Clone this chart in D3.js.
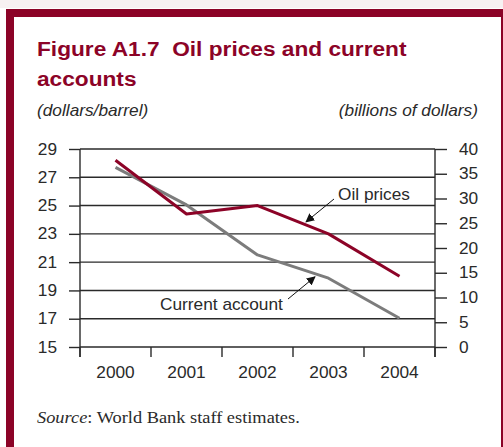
<!DOCTYPE html>
<html>
<head>
<meta charset="utf-8">
<script src="https://cdn.jsdelivr.net/npm/d3@7"></script>
<style>
  html, body { margin: 0; padding: 0; background: #ffffff; }
  svg { display: block; }
</style>
</head>
<body>
<script>
// Years along the horizontal axis
const years = ["2000", "2001", "2002", "2003", "2004"];
// Oil prices, dollars per barrel (left axis)
const oilPrices = [28.2, 24.4, 25.0, 23.0, 20.0];
// Current account, billions of dollars (right axis)
const currentAccount = [36.3, 28.7, 18.6, 13.9, 5.8];
// Tick labels
const leftTicks = [15, 17, 19, 21, 23, 25, 27, 29];
const rightTicks = [0, 5, 10, 15, 20, 25, 30, 35, 40];

const W = 503, H = 447;
const maroon = "#8c0327";
const ink = "#2a2a2a";
const SX = 1.08;          // horizontal widening applied to all lettering
const sans = "'Liberation Sans', Arial, Helvetica, sans-serif";
const serif = "'Liberation Serif', 'Times New Roman', serif";

const svg = d3.select("body").append("svg")
  .attr("width", W).attr("height", H);

// Place a text element at (x, y), widened horizontally by SX
function addText(x, y, str, opts = {}) {
  const t = svg.append("text")
    .attr("transform", `translate(${x},${y}) scale(${SX},1)`)
    .attr("text-anchor", opts.anchor || "start")
    .attr("fill", opts.fill || ink)
    .style("font-family", opts.family || sans)
    .style("font-size", (opts.size || 16) + "px");
  if (opts.weight) t.style("font-weight", opts.weight);
  if (opts.italic) t.style("font-style", "italic");
  if (str != null) t.text(str);
  return t;
}
// Widen axis tick labels the same way
function widenTicks(g, size) {
  g.selectAll(".tick text").each(function () {
    const t = d3.select(this);
    const x0 = +t.attr("x") || 0;
    t.attr("x", x0 / SX).attr("transform", `scale(${SX},1)`)
      .attr("fill", ink)
      .style("font-family", sans)
      .style("font-size", size + "px");
  });
}

// Page background and frame
svg.append("rect").attr("x", 0).attr("y", 0).attr("width", W).attr("height", H).attr("fill", "#ffffff");
svg.append("rect").attr("x", 0).attr("y", 0).attr("width", W).attr("height", 8).attr("fill", "#f7f1f2");
svg.append("rect").attr("x", 6).attr("y", 9).attr("width", W - 6).attr("height", 8).attr("fill", maroon);
svg.append("rect").attr("x", 6).attr("y", 9).attr("width", 8).attr("height", H - 9).attr("fill", maroon);
svg.append("rect").attr("x", 501).attr("y", 9).attr("width", 2).attr("height", H - 9).attr("fill", maroon);

// Title
addText(37, 56, "Figure A1.7\u00a0\u00a0Oil prices and current", { size: 21, weight: "bold", fill: maroon });
addText(37, 86, "accounts", { size: 21, weight: "bold", fill: maroon });

// Unit labels
addText(37, 116, "(dollars/barrel)", { size: 16, italic: true });
addText(478, 116, "(billions of dollars)", { size: 16, italic: true, anchor: "end" });

// Scales
const x = d3.scaleBand().domain(years).range([80, 435]);
const yL = d3.scaleLinear().domain([15, 29]).range([347, 149]);
const yR = d3.scaleLinear().domain([0, 40]).range([347, 149]);

// Horizontal grid lines at each left-axis tick
svg.append("g").selectAll("line").data(leftTicks).join("line")
  .attr("x1", x.range()[0]).attr("x2", x.range()[1])
  .attr("y1", d => yL(d)).attr("y2", d => yL(d))
  .attr("stroke", ink).attr("stroke-width", 1.4);

// Left axis
const leftAxis = svg.append("g")
  .attr("transform", `translate(${x.range()[0]},0)`)
  .call(d3.axisLeft(yL).tickValues(leftTicks).tickSize(11).tickSizeOuter(0).tickPadding(12));
leftAxis.select(".domain").remove();
leftAxis.selectAll(".tick line").attr("stroke", ink).attr("stroke-width", 1.4);
widenTicks(leftAxis, 16);

// Right axis
const rightAxis = svg.append("g")
  .attr("transform", `translate(${x.range()[1]},0)`)
  .call(d3.axisRight(yR).tickValues(rightTicks).tickSize(12).tickSizeOuter(0).tickPadding(12));
rightAxis.select(".domain").remove();
rightAxis.selectAll(".tick line").attr("stroke", ink).attr("stroke-width", 1.4);
widenTicks(rightAxis, 16);

// Vertical axis lines, running past the baseline
[x.range()[0], x.range()[1]].forEach(px => {
  svg.append("line")
    .attr("x1", px).attr("x2", px)
    .attr("y1", yL(29)).attr("y2", yL(15) + 10)
    .attr("stroke", ink).attr("stroke-width", 1.4);
});

// Bottom axis: ticks at band edges, labels at band centres
const edges = years.map(y => x(y)).concat([x.range()[1]]);
svg.append("g").selectAll("line").data(edges).join("line")
  .attr("x1", d => d).attr("x2", d => d)
  .attr("y1", yL(15)).attr("y2", yL(15) + 10)
  .attr("stroke", ink).attr("stroke-width", 1.4);
years.forEach(y => addText(x(y) + x.bandwidth() / 2, 378, y, { size: 16, anchor: "middle" }));

// Series lines
const cx = i => x(years[i]) + x.bandwidth() / 2;
const lineOil = d3.line().x((d, i) => cx(i)).y(d => yL(d));
const lineCA = d3.line().x((d, i) => cx(i)).y(d => yR(d));

svg.append("path").datum(currentAccount)
  .attr("d", lineCA)
  .attr("fill", "none").attr("stroke", "#7c7c7c").attr("stroke-width", 3)
  .attr("stroke-linejoin", "round");
svg.append("path").datum(oilPrices)
  .attr("d", lineOil)
  .attr("fill", "none").attr("stroke", maroon).attr("stroke-width", 3)
  .attr("stroke-linejoin", "round");

// Arrow marker for annotations
svg.append("defs").append("marker")
  .attr("id", "arrowhead")
  .attr("viewBox", "0 0 10 10")
  .attr("refX", 9).attr("refY", 5)
  .attr("markerWidth", 9).attr("markerHeight", 9)
  .attr("markerUnits", "userSpaceOnUse")
  .attr("orient", "auto")
  .append("path").attr("d", "M0,0 L10,5 L0,10 Z").attr("fill", "#111");

// Oil prices label and arrow
addText(338, 200, "Oil prices", { size: 16 });
{
  const px = 306, py = yL(25.0) + (yL(23.0) - yL(25.0)) * ((px - cx(2)) / (cx(3) - cx(2))) - 3;
  svg.append("line").attr("x1", 334).attr("y1", 199).attr("x2", px).attr("y2", py)
    .attr("stroke", "#111").attr("stroke-width", 1).attr("marker-end", "url(#arrowhead)");
}

// Current account label and arrow
addText(160, 310, "Current account", { size: 16 });
{
  const px = 315, py = yR(18.6) + (yR(13.9) - yR(18.6)) * ((px - cx(2)) / (cx(3) - cx(2))) + 3;
  svg.append("line").attr("x1", 288).attr("y1", 299).attr("x2", px).attr("y2", py)
    .attr("stroke", "#111").attr("stroke-width", 1).attr("marker-end", "url(#arrowhead)");
}

// Source note
const src = addText(37, 423, null, { size: 17, family: serif });
src.append("tspan").style("font-style", "italic").text("Source");
src.append("tspan").text(": World Bank staff estimates.");
</script>
</body>
</html>
